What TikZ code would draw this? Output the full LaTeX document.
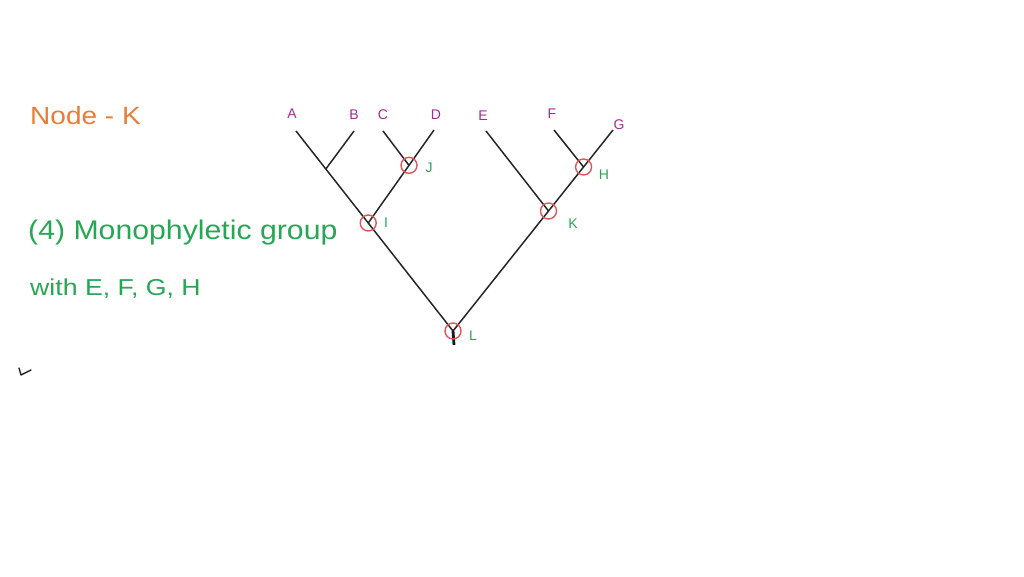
\documentclass[tikz,border=0pt]{standalone}
\usepackage{fontspec}
\setmainfont{Liberation Sans}
\usetikzlibrary{calc}
\definecolor{orng}{RGB}{232,125,55}
\definecolor{grn}{RGB}{40,165,85}
\definecolor{mag}{RGB}{165,40,150}
\definecolor{ringred}{RGB}{222,85,90}
\begin{document}
\begin{tikzpicture}[x=1pt,y=-1pt,
  branch/.style={line width=1.5pt, draw=black!85},
  ring/.style={circle, draw=ringred, line width=1.4pt, minimum size=16pt, inner sep=0pt},
  tip/.style={text=mag, font=\fontsize{14}{14}\selectfont, inner sep=0pt},
  inner/.style={text=grn, font=\fontsize{14}{14}\selectfont, inner sep=0pt},
  note/.style={anchor=base west, inner sep=0pt}]
\useasboundingbox (0,0) rectangle (1024,576);
% tips
\coordinate (tA) at (296,131);
\coordinate (tB) at (354,131);
\coordinate (tC) at (383,131);
\coordinate (tD) at (434,130);
\coordinate (tE) at (486,131);
\coordinate (tF) at (554,130);
\coordinate (tG) at (613,130);
% internal points
\coordinate (L) at (453,331);
\coordinate (stub) at (454,345);
\coordinate (ab) at ($(tA)!0.19!(L)$);
\coordinate (I) at ($(tA)!0.46!(L)$);
\coordinate (J) at ($(tD)!0.38!(I)$);
\coordinate (K) at ($(tG)!0.403!(L)$);
\coordinate (H) at ($(tG)!0.184!(L)$);
% branches
\draw[branch] (tA) -- (ab) -- (I) -- (L);
\draw[branch] (tB) -- (ab);
\draw[branch] (tD) -- (J) -- (I);
\draw[branch] (tC) -- (J);
\draw[branch] (tG) -- (H) -- (K) -- (L);
\draw[branch] (tF) -- (H);
\draw[branch] (tE) -- (K);
\draw[line width=2.8pt, draw=black!90] (L) -- (stub);
% rings
\node[ring] (rJ) at (J) {};
\node[ring] (rI) at (I) {};
\node[ring] (rK) at (K) {};
\node[ring] (rH) at (H) {};
\node[ring] (rL) at (L) {};
% tip labels
\node[tip] (lA) at (292,114) {A};
\node[tip] (lB) at (354,115) {B};
\node[tip] (lC) at (383,115) {C};
\node[tip] (lD) at (436,115) {D};
\node[tip] (lE) at (483,116) {E};
\node[tip] (lF) at (552,114) {F};
\node[tip] (lG) at (619,125) {G};
% internal labels
\node[inner] (lJ) at (429,168) {J};
\node[inner] (lI) at (386,223) {I};
\node[inner] (lH) at (604,175) {H};
\node[inner] (lK) at (573,224) {K};
\node[inner] (lL) at (473,336) {L};
% notes
\node[note, text=orng, font=\fontsize{25}{25}\selectfont, xscale=1.12] (n1) at (30,124) {Node - K};
\node[note, text=grn, font=\fontsize{27}{27}\selectfont, xscale=1.12] (n2) at (28,239) {(4) Monophyletic group};
\node[note, text=grn, font=\fontsize{23}{23}\selectfont, xscale=1.16] (n3) at (30,295) {with E, F, G, H};
% small stray mark
\draw[line width=1.4pt, draw=black!85, line cap=round, line join=round] (19,368) -- (21,375) -- (31,370);
\end{tikzpicture}
\end{document}
